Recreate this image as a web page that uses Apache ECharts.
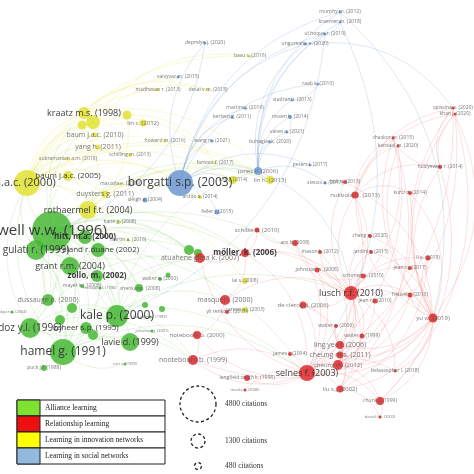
<!DOCTYPE html>
<html><head><meta charset="utf-8">
<script src="https://cdn.jsdelivr.net/npm/echarts@6/dist/echarts.min.js"></script>
<style>html,body{margin:0;padding:0;background:#fff}#c{width:474px;height:474px}</style>
</head><body><div id="c"></div>
<script>
// node table: label, x, y, diameter, group, fontSize
const names=["well w.w. (1996)","gulati r. (1999)","hitt, m.a. (2000)","ireland r.duane (2002)","grant r.m. (2004)","zollo, m. (2002)","mayer k.j. (2008)","dussauge p. (2000)","kale p. (2000)","doz y.l. (1996)",
"zaheer s.p. (1995)","lavie d. (1999)","hamel g. (1991)","puck j.f. (1988)","inkpen a. (2004)","mesquita l. (1996)","shenkar o. (2008)","walter a. (2000)","lubatkin m. (1999)","johanson j. (2001)",
"carr c. (1999)","","","","","","","","","",
"lusch r.f. (2010)","selnes f. (2003)","yu w. (2019)","ling yee l. (2006)","cheung m.s. (2011)","cheung m. (2012)","liu s.j. (2002)","chunk j. (1999)","daniel hk. (2002)","möller, k. (2006)",
"atuahene gima k. (2007)","masquel l. (2000)","noteboom b. (2000)","nooteboom b. (1999)","langfield smith k. (1998)","de clercq d. (2006)","walter a. (1999)","heuvel r. (2013)","jean r.j. (2010)","schonen a. (2010)",
"jean r.j. (2017)","li x. (2018)","johnston w. (2008)","mason k. (2012)","jardini r. (2015)","zhang n. (2020)","aro h. (2008)","schilke o. (2010)","nukbolat s. (2013)","holt a. (2013)",
"kurtz d. (2014)","huizyewelt r. (2014)","chaskor m. (2015)","kansaal m. (2020)","spissina a. (2020)","khan j. (2020)","belassopher l. (2018)","walter a. (2006)","james l. (2004)","",
"yli renko h. (2001)","carson s.j. (2003)","marita k. (2006)",
"j.a.c. (2000)","kraatz m.s. (1998)","","","","baum j.a.c. (2010)","yang h. (2011)","baum j.a.c. (2005)","subramanian a.m. (2018)","schilling m. (2013)",
"lin c. (2012)","rothaermel f.t. (2004)","duysters g. (2011)","mazzola e. (2009)","madhavan r. (2013)","desai v.m. (2018)","howard m. (2016)","fornoni f. (2017)","basu s. (2016)","lin h. (2013)",
"ahn j. (2014)","kane g. (2008)","ardito a. (2014)","martin a. (2016)","lai s. (2008)",
"borgatti s.p. (2003)","jones c. (2006)","murphy m. (2012)","kraemer m. (2018)","ul hoque r. (2019)","ungureanu e. (2020)","deprelye j. (2020)","vaivyvac m. (2015)","raab k. (2010)","stadrani l. (2013)",
"martins j. (2016)","kerlsen g. (2011)","nissen h. (2014)","wang m. (2021)","buhagiar k. (2020)","vaivei a. (2021)","peters l. (2017)","steuss a. (2017)","feller j. (2015)","sleigh a. (2004)"];
const xs=[52,36,85,98,70,97,82,48,117,30, 86,130,63,44,12,100,140,160,150,152, 125,189,198,139,145,162,72,60,93,168,
351,307,433,340,340,338,340,380,380,245, 200,225,197,193,247,303,362,410,375,363, 410,428,317,320,371,370,295,257,355,345,
410,440,393,398,453,455,395,336,290,300, 227,245,245,
27,84,93,82,127,95,98,68,68,130, 143,88,105,120,158,208,165,215,250,270, 233,120,200,128,245,
180,258,340,340,325,305,205,178,318,292, 245,232,290,212,270,287,310,325,217,145];
const ys=[231,250,237,250,266,276,286,300,316,328, 328,342,352,368,312,288,289,279,317,331, 364,250,253,288,305,309,308,320,335,275,
293,373,318,345,355,365,389,401,417,253, 258,300,335,360,378,305,336,295,301,276, 268,258,270,252,252,236,243,230,195,182,
193,167,138,146,108,114,371,326,354,430, 312,310,390,
183,113,122,125,115,135,147,176,159,155, 123,210,194,184,90,90,141,163,56,180, 180,222,197,240,281,
183,171,12,22,34,44,43,77,84,100, 108,117,117,141,142,132,165,183,212,200];
const sizes=[40,20,14,14,18,12,4,12,22,20, 12,18,26,6,3,3,4,4,3,3, 3,10,8,8,6,6,10,10,10,5,
14,16,9,8,7,10,7,8,3,8, 10,10,8,10,6,7,5,5,5,5, 4,5,5,4,4,4,6,5,7,4,
4,4,3,3,3,3,3,4,4,0, 4,6,3,
26,12,14,9,9,5,5,10,3,4, 7,18,7,3,3,3,3,3,3,8, 8,3,4,3,6,
26,8,3,3,3,3,3,3,3,3, 3,3,4,3,3,3,3,3,5,5];
const groups=[0,0,0,0,0,0,0,0,0,0, 0,0,0,0,0,0,0,0,0,0, 0,0,0,0,0,0,0,0,0,0,
1,1,1,1,1,1,1,1,1,1, 1,1,1,1,1,1,1,1,1,1, 1,1,1,1,1,1,1,1,1,1, 1,1,1,1,1,1,1,1,1,1, 1,2,1,
2,2,2,2,2,2,2,2,2,2, 2,2,2,2,2,2,2,2,2,2, 2,2,2,2,2,
3,3,3,3,3,3,3,3,3,3, 3,3,3,3,3,3,3,3,3,3];
const fonts=[15,10,8,8,9,8,5,7,12,10, 8,9,12,5,4,4,5,5,4,4, 4,0,0,0,0,0,0,0,0,0,
9,9,6,7,7,6,6,5,4,8, 7,7,6,7,5,6,5,5,5,5, 5,5,5,5,5,5,5,6,6,5,
5,5,5,5,5,5,5,5,5,0, 5,5,4,
11,9,0,0,0,7,7,8,5,5, 6,9,7,5,5,5,5,5,5,6, 5,5,5,5,5,
12,6,5,5,5,5,5,5,5,5, 5,5,5,5,5,5,5,5,5,5];
const links=[[0,1],[0,2],[0,3],[0,4],[0,5],[0,7],[0,8],[0,9],[0,12],[0,84],[0,73],[1,4],[1,8],[1,9],[1,12],[2,3],[2,5],[4,5],[4,8],[8,12],[8,9],[9,12],[7,12],[8,11],[12,11],[10,12],[10,8],[0,10],[0,21],[0,40],[8,40],[12,43],[8,43],[0,39],[21,22],[21,40],[23,8],[0,16],[0,17],[4,17],[13,12],[20,12],[26,0],[27,0],[26,8],[27,12],[0,30],[12,31],[8,41],[1,39],[9,43],[4,22],
[1,7],[2,8],[3,8],[3,12],[5,8],[9,7],[12,26],[12,27],[8,28],[0,23],[1,21],[2,21],[4,12],[9,8],[11,28],[0,29],[5,23],[0,26],[1,27],[12,40],[9,40],[0,41],[1,31],[9,31],[12,30],
[73,74],[73,75],[73,76],[73,77],[73,80],[73,84],[73,98],[74,75],[75,76],[75,78],[73,83],[84,98],[84,85],[73,85],[98,92],[98,93],[73,91],[73,87],[74,87],[75,88],[73,105],[98,99],[84,92],[73,89],[0,74],[0,75],[0,80],[84,97],[73,78],[73,79],[80,98],[0,92],[75,91],[77,90],[73,93],[74,92],
[73,81],[73,82],[74,76],[74,77],[75,80],[76,84],[77,84],[80,84],[84,86],[73,86],[75,90],[74,88],[73,92],[84,93],[73,99],[1,73],[9,73],[12,73],[1,84],[4,84],[8,84],[84,95],[98,95],[73,96],
[98,104],[98,100],[99,100],[99,101],[99,102],[99,103],[98,106],[99,107],[98,108],[98,109],[99,110],[98,111],[99,112],[99,113],[98,114],[99,115],[98,116],[117,98],[100,101],[101,102],[102,103],[106,107],[0,99],[8,99],[99,30],[100,32],[103,64],[101,31],[104,0],[102,8],[98,102],[98,103],[110,113],
[30,31],[30,32],[30,33],[30,34],[30,35],[30,36],[30,45],[30,46],[30,47],[30,48],[30,49],[30,50],[30,51],[30,52],[30,53],[30,54],[30,55],[30,56],[30,58],[30,59],[31,33],[31,34],[31,35],[31,36],[31,37],[31,43],[31,44],[31,42],[32,47],[32,51],[32,37],[32,61],[32,64],[32,65],[32,62],[32,63],[32,58],[58,61],[58,60],[58,64],[58,65],[61,64],[61,65],[60,32],[39,30],[39,40],[39,57],[39,41],[41,42],[42,43],[43,31],[45,31],[35,37],[37,38],[36,38],[32,66],[31,66],[30,66],[33,34],[34,35],[56,57],[57,39],[58,62],[58,63],[40,30],[41,30],[68,31],[70,41],[72,31],[33,67],[48,47],[49,52],[32,34],[32,33],[61,62],[32,31],[64,31],[65,35],[62,36],[61,37],[32,43],[31,40],
[32,35],[32,36],[33,36],[34,36],[45,33],[45,34],[46,35],[48,34],[52,31],[53,35],[54,32],[55,32],[58,30],[58,31],[60,35],[62,30],[63,31],[64,37],[65,32],[47,35],[51,36],[39,31],[56,31],[59,32]];
const groupColors=['#46b935','#e0282a','#e2e234','#6d96d2'];
const linkColors=['rgba(130,205,110,0.45)','rgba(232,90,90,0.4)','rgba(226,226,70,0.5)','rgba(110,150,210,0.5)'];
const legendItems=['Alliance learning','Relationship learning','Learning in innovation networks','Learning in social networks'];
const legendColors=['#7ee22e','#ee1010','#ffff00','#92badf'];
const sizeLegend=[['4800 citations',18],['1300 citations',7],['480 citations',3.5]];

const nodes=names.map((n,i)=>({name:'n'+i,value:[xs[i],ys[i]],symbolSize:sizes[i],
  itemStyle:{color:groupColors[groups[i]],opacity:sizes[i]?0.85:0},
  label:{show:!!(n&&fonts[i]),formatter:n,fontSize:fonts[i]||5,color:fonts[i]>=8?'#333':'#555',
    fontWeight:(i==2||i==5||i==39)?'bold':'normal',opacity:fonts[i]>=8?0.95:0.8}}));
const edges=links.map(([s,t])=>({source:s,target:t,lineStyle:{color:linkColors[groups[s]]}}));

const graphic=[];
legendItems.forEach((t,i)=>{
  const y=400+i*16;
  graphic.push({type:'rect',shape:{x:17,y:y,width:148,height:16},style:{fill:'#fff',stroke:'#222',lineWidth:1}});
  graphic.push({type:'rect',shape:{x:17,y:y,width:23,height:16},style:{fill:legendColors[i],stroke:'#222',lineWidth:1}});
  graphic.push({type:'text',x:45,y:y+8,style:{text:t,font:'7.5px "Liberation Serif"',fill:'#222',verticalAlign:'middle'}});
});
const sy=[404,441,466];
sizeLegend.forEach(([t,r],i)=>{
  graphic.push({type:'circle',shape:{cx:198,cy:sy[i],r:r},style:{fill:'none',stroke:'#222',lineWidth:1.3,lineDash:[3,2.5]}});
  graphic.push({type:'text',x:225,y:sy[i],style:{text:t,font:'7.5px "Liberation Serif"',fill:'#333',verticalAlign:'middle'}});
});

const chart=echarts.init(document.getElementById('c'));
chart.setOption({
  animation:false,
  grid:{left:0,right:0,top:0,bottom:0},
  xAxis:{type:'value',min:0,max:474,show:false},
  yAxis:{type:'value',min:0,max:474,inverse:true,show:false},
  series:[{type:'graph',coordinateSystem:'cartesian2d',layout:'none',data:nodes,links:edges,
    label:{position:'inside',fontFamily:'Open Sans'},
    lineStyle:{width:0.9,curveness:0.3},emphasis:{disabled:true},z:2}],
  graphic:graphic
});
</script></body></html>
